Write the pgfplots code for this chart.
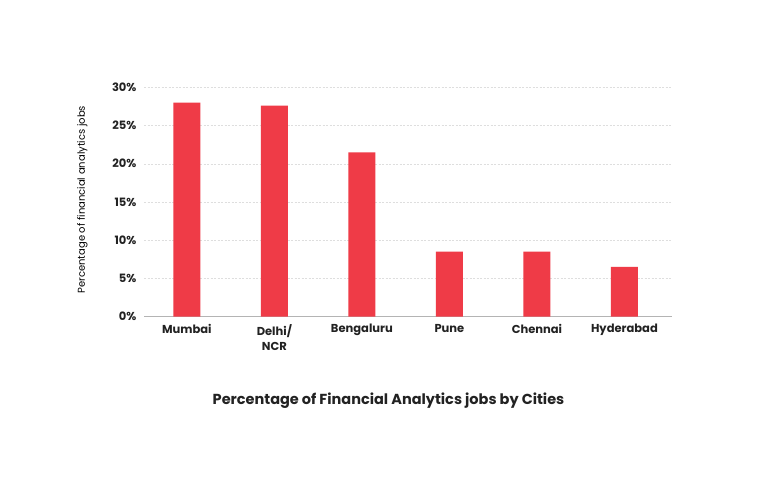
\documentclass[border=0pt]{standalone}
\usepackage{pgfplots}
\pgfplotsset{compat=1.18}
\usepackage{fontspec}
\setmainfont{Poppins}
\definecolor{barred}{RGB}{239,59,71}
\definecolor{txt}{RGB}{34,34,34}
\definecolor{gridc}{RGB}{222,222,222}
\definecolor{axc}{RGB}{180,180,180}
\begin{document}
\begin{tikzpicture}
\path[fill=white,use as bounding box] (0pt,0pt) rectangle (770pt,493pt);
\begin{axis}[
  at={(144pt,176.3pt)}, anchor=south west,
  scale only axis, width=527.7pt, height=229.4pt,
  ymin=0, ymax=30, ytick={0,5,...,30},
  xmin=-0.49, xmax=5.54,
  xtick=data,
  xticklabels={Mumbai,{Delhi/\\NCR},Bengaluru,Pune,Chennai,Hyderabad},
  x tick label style={align=center, font=\fontsize{11.5}{15}\selectfont\bfseries, text=txt, yshift=-4pt},
  y tick label style={font=\fontsize{11.5}{12}\selectfont\bfseries, text=txt, xshift=-4pt},
  /pgf/number format/assume math mode=true,
  yticklabel={\pgfmathprintnumber{\tick}\%},
  axis lines*=left,
  x axis line style={draw=axc, line width=0.8pt},
  y axis line style={draw=none},
  ymajorgrids, grid style={gridc, dash pattern=on 2pt off 1.5pt, line width=0.5pt},
  major tick length=0pt,
  ylabel={Percentage of financial analytics jobs},
  ylabel style={font=\fontsize{10.5}{12}\selectfont, text=txt},
  every axis y label/.style={at={(axis description cs:-0.1004,0.51)}, rotate=90, anchor=south},
  enlargelimits=false, clip=false,
]
\addplot[ybar, bar width=27pt, fill=barred, draw=none] coordinates {
(0,28.0) (1,27.6) (2,21.5) (3,8.5) (4,8.5) (5,6.5)};
\end{axis}
\node[font=\fontsize{14.5}{16}\selectfont\bfseries, text=txt, anchor=base] at (388.5pt,89pt) {Percentage of Financial Analytics jobs by Cities};
\end{tikzpicture}
\end{document}
